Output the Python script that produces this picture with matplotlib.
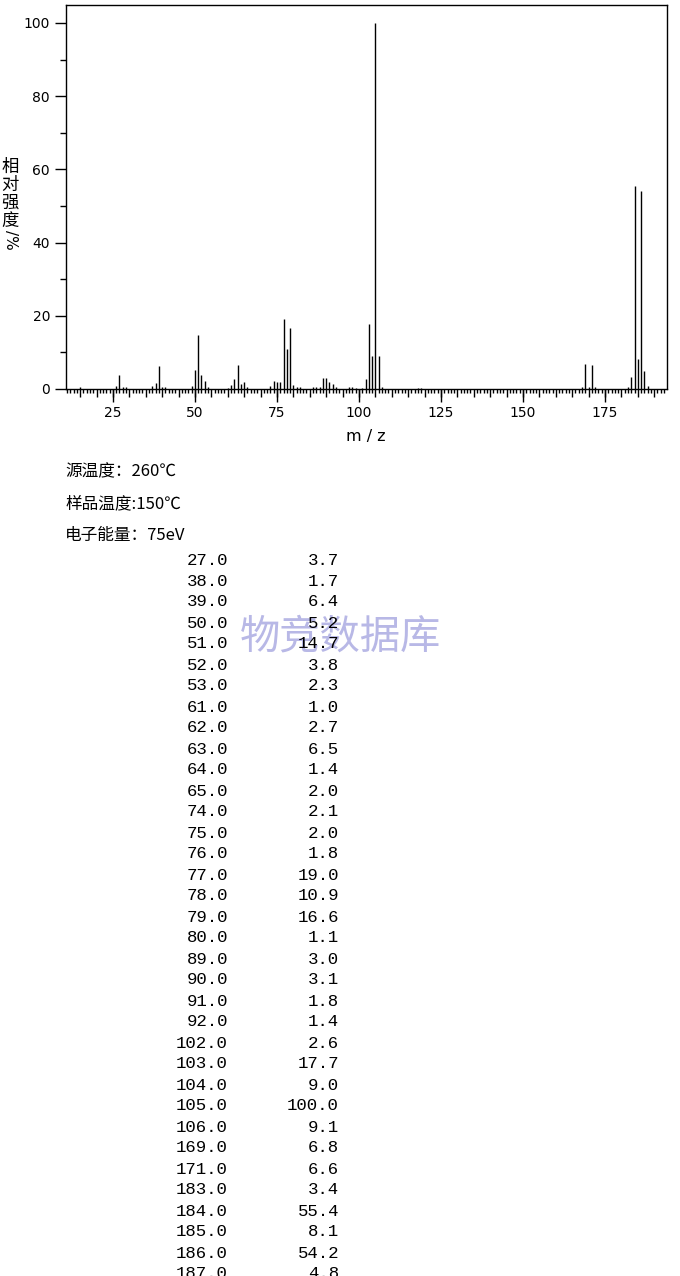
import matplotlib
matplotlib.use("Agg")
import matplotlib.pyplot as plt
from matplotlib.ticker import MultipleLocator, NullFormatter

# listed peaks (m/z, relative intensity %)
mz = [27, 38, 39, 50, 51, 52, 53, 61, 62, 63, 64, 65, 74, 75, 76, 77, 78, 79,
      80, 89, 90, 91, 92, 102, 103, 104, 105, 106, 169, 171, 183, 184, 185,
      186, 187]
inten = [3.7, 1.7, 6.4, 5.2, 14.7, 3.8, 2.3, 1.0, 2.7, 6.5, 1.4, 2.0, 2.1,
         2.0, 1.8, 19.0, 10.9, 16.6, 1.1, 3.0, 3.1, 1.8, 1.4, 2.6, 17.7, 9.0,
         100.0, 9.1, 6.8, 6.6, 3.4, 55.4, 8.1, 54.2, 4.8]

# small unlisted peaks (estimated)
small_mz = [15, 26, 28, 29, 37, 40, 41, 49, 54, 60, 66, 73, 81, 82, 86, 87,
            88, 93, 97, 98, 99, 101, 107, 118, 119, 168, 170, 172, 182, 188]
small_inten = [0.5, 0.8, 0.6, 0.5, 0.9, 0.5, 0.5, 0.7, 0.6, 0.4, 0.5, 0.7,
               0.6, 0.5, 0.5, 0.6, 0.5, 0.5, 0.5, 0.6, 0.4, 0.4, 0.6, 0.4,
               0.4, 0.5, 0.6, 0.5, 0.5, 0.7]

info_lines = ["源温度：260℃", "样品温度:150℃", "电子能量：75eV"]
ylabel_chars = ["相", "对", "强", "度"]

CJK = ["Noto Sans CJK SC", "DejaVu Sans"]
W, H = 680, 1276
fig = plt.figure(figsize=(W / 100, H / 100), dpi=100)


def fx(x):
    return x / W


def fy(y):
    return 1 - y / H


# spectrum axes
ax = fig.add_axes([fx(66), fy(389), fx(667) - fx(66), (389 - 5) / H])
ax.vlines(small_mz + mz, 0, small_inten + inten, color="black", linewidth=1)
ax.set_xlim(10.7, 193.9)
ax.set_ylim(0, 104.9)
for s in ax.spines.values():
    s.set_linewidth(1)
ax.xaxis.set_major_locator(MultipleLocator(5))
ax.xaxis.set_minor_locator(MultipleLocator(1))
ax.xaxis.set_major_formatter(NullFormatter())
ax.tick_params(axis="x", which="major", length=6, width=1, direction="out")
ax.tick_params(axis="x", which="minor", length=3, width=1, direction="out")
ax.yaxis.set_major_locator(MultipleLocator(20))
ax.yaxis.set_minor_locator(MultipleLocator(10))
ax.tick_params(axis="y", which="major", length=8, width=1, labelsize=10,
               colors="black")
ax.tick_params(axis="y", which="minor", length=4, width=1)

sec = ax.secondary_xaxis("bottom")
sec.set_xticks([25, 50, 75, 100, 125, 150, 175])
sec.tick_params(length=9, width=1, labelsize=10, pad=3)
sec.spines["bottom"].set_visible(False)

fig.text(fx(366), fy(437), "m / z", ha="center", va="center", fontsize=11.5)

# vertical y label, one character per line
for i, ch in enumerate(ylabel_chars):
    fig.text(fx(10), fy(167 + i * 18), ch, ha="center", va="center",
             fontsize=12.5, family=CJK)
fig.text(fx(10), fy(240), "/%", ha="center", va="center", rotation=-90,
         fontsize=11)

# watermark
fig.text(fx(340), fy(637), "物竞数据库", ha="center", va="center",
         fontsize=29, color="#b8b8e6", family=CJK, zorder=0)

# info lines
for i, line in enumerate(info_lines):
    fig.text(fx(65), fy(472 + i * 31.5), line, ha="left", va="center",
             fontsize=12, family=CJK)

# peak table
for i, (m, v) in enumerate(zip(mz, inten)):
    y = fy(560 + i * 21.0)
    fig.text(fx(228), y, f"{m:.1f}", ha="right", va="center",
             fontsize=12.5, family="Liberation Mono", zorder=2)
    fig.text(fx(339), y, f"{v:.1f}", ha="right", va="center",
             fontsize=12.5, family="Liberation Mono", zorder=2)

fig.savefig("out.png", dpi=100)
